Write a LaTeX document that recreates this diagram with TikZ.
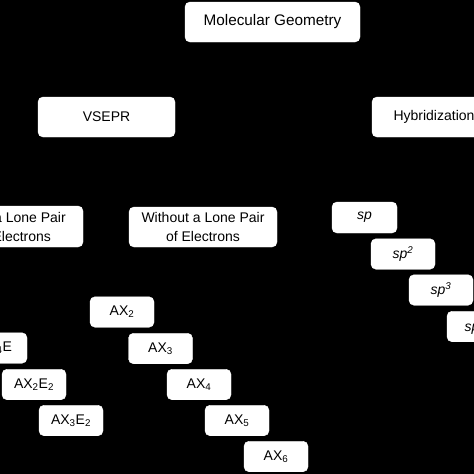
\documentclass[tikz,border=0pt]{standalone}
\usepackage{fontspec}
\setmainfont{Liberation Sans}
\begin{document}
\begin{tikzpicture}[x=1pt,y=-1pt,
  box/.style={fill=white,draw=white,rounded corners=5pt,inner sep=0pt,
    text=black,align=center,font=\fontsize{14}{19}\selectfont},
  big/.style={box,font=\fontsize{15.3}{18}\selectfont},
  axbox/.style={box,minimum width=64pt,minimum height=30.5pt},
  spbox/.style={box,minimum width=64pt,minimum height=30.5pt,font=\fontsize{14}{16}\selectfont\itshape}]
\useasboundingbox (0,0) rectangle (474,474);
\clip (0,0) rectangle (474,474);
\fill[black] (0,0) rectangle (474,474);
% top levels
\node[big,minimum width=175pt,minimum height=40pt] (mg) at (272.5,22) {Molecular Geometry};
\node[box,minimum width=137pt,minimum height=40pt] (vsepr) at (106.5,117) {VSEPR};
\node[box,minimum width=124pt,minimum height=40pt] (hyb) at (434,117) {Hybridization};
% VSEPR branches
\node[box,minimum width=138pt,minimum height=41pt] (wlp) at (14,226.5) {With a Lone Pair\\of Electrons};
\node[box,minimum width=148pt,minimum height=40pt] (wolp) at (203,227) {Without a Lone Pair\\of Electrons};
% hybridization
\node[spbox,minimum width=65pt,minimum height=31pt] (sp) at (364.5,217.5) {sp};
\node[spbox] (sp2) at (403,254) {sp\textsuperscript{2}};
\node[spbox] (sp3) at (441,290) {sp\textsuperscript{3}};
\node[spbox] (sp3d) at (479,326.5) {sp\textsuperscript{3}d};
% without lone pair
\node[axbox] (ax2) at (122,312) {AX\textsubscript{2}};
\node[axbox] (ax3) at (160.5,348.5) {AX\textsubscript{3}};
\node[axbox] (ax4) at (199,384.5) {AX\textsubscript{4}};
\node[axbox] (ax5) at (237,420.5) {AX\textsubscript{5}};
\node[axbox] (ax6) at (276,456.5) {AX\textsubscript{6}};
% with lone pair
\node[axbox] (ax4e) at (-5,348) {AX\textsubscript{4}E};
\node[axbox] (ax2e2) at (34,384.5) {AX\textsubscript{2}E\textsubscript{2}};
\node[axbox] (ax3e2) at (71,420.5) {AX\textsubscript{3}E\textsubscript{2}};
\end{tikzpicture}
\end{document}
